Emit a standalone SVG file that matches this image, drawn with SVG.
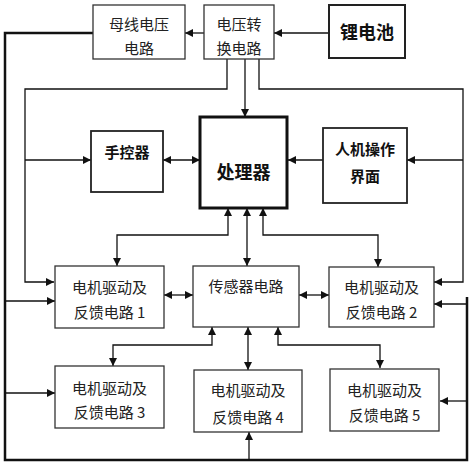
<svg xmlns="http://www.w3.org/2000/svg" width="474" height="467" viewBox="0 0 474 467">
<defs>
<marker id="ah" viewBox="0 0 10 10" refX="10" refY="5" markerWidth="9" markerHeight="8" markerUnits="userSpaceOnUse" orient="auto-start-reverse"><path d="M0,0 L10,5 L0,10 Z" fill="#111"/></marker>
</defs>
<style>
.box{fill:#fff;stroke:#333;stroke-width:1.3}
.t{font-family:"Noto Sans CJK SC","Noto Sans",sans-serif;font-size:15px;fill:#222;text-anchor:middle}
.b{font-weight:bold;fill:#111}
.c{fill:none;stroke:#111;stroke-width:1.3}
.k{fill:none;stroke:#111;stroke-width:2.5}
</style>
<rect width="474" height="467" fill="#fff"/>
<g id="connectors">
<path class="c" d="M329,33 H274" marker-end="url(#ah)"/>
<path class="c" d="M204,33 H185" marker-end="url(#ah)"/>
<path class="k" d="M93,33 H5 V460 H467 V297"/>
<path class="c" d="M467,304 H434" marker-end="url(#ah)"/>
<path class="c" d="M467,401 H440" marker-end="url(#ah)"/>
<path class="c" d="M249,460 V432" marker-end="url(#ah)"/>
<path class="c" d="M5,301 H55" marker-end="url(#ah)"/>
<path class="c" d="M5,393 H55" marker-end="url(#ah)"/>
<path class="c" d="M227,59 V89 H25 V282 H54" marker-end="url(#ah)"/>
<path class="c" d="M25,160 H91" marker-end="url(#ah)"/>
<path class="c" d="M245,59 V117" marker-end="url(#ah)"/>
<path class="c" d="M259,59 V89 H463 V282 H434" marker-end="url(#ah)"/>
<path class="c" d="M463,160 H407" marker-end="url(#ah)"/>
<path class="c" d="M163,160 H200" marker-start="url(#ah)" marker-end="url(#ah)"/>
<path class="c" d="M323,160 H288" marker-end="url(#ah)"/>
<path class="c" d="M228,208 V235 H117 V266" marker-start="url(#ah)" marker-end="url(#ah)"/>
<path class="c" d="M247,208 V266" marker-start="url(#ah)" marker-end="url(#ah)"/>
<path class="c" d="M263,208 V235 H378 V267" marker-start="url(#ah)" marker-end="url(#ah)"/>
<path class="c" d="M164,295 H193" marker-start="url(#ah)" marker-end="url(#ah)"/>
<path class="c" d="M299,295 H329" marker-start="url(#ah)" marker-end="url(#ah)"/>
<path class="c" d="M212,327 V345 H113 V366" marker-start="url(#ah)" marker-end="url(#ah)"/>
<path class="c" d="M248,327 V370" marker-start="url(#ah)" marker-end="url(#ah)"/>
<path class="c" d="M278,327 V345 H380 V368" marker-start="url(#ah)" marker-end="url(#ah)"/>
</g>
<g id="busVoltage"><rect class="box" x="93" y="5" width="92" height="54"/><text class="t" x="139" y="30">母线电压</text><text class="t" x="139" y="54">电路</text></g>
<g id="converter"><rect class="box" x="204" y="5" width="70" height="54"/><text class="t" x="239" y="30">电压转</text><text class="t" x="239" y="54">换电路</text></g>
<g id="battery"><rect class="box" x="329" y="5" width="76" height="53" style="stroke-width:2;stroke:#222"/><text class="t b" x="367" y="39" style="font-size:18px">锂电池</text></g>
<g id="handController"><rect class="box" x="91" y="131" width="72" height="61" style="stroke-width:1.8;stroke:#222"/><text class="t b" x="127" y="158">手控器</text></g>
<g id="processor"><rect class="box" x="200" y="117" width="87" height="91" style="stroke-width:3;stroke:#111"/><text class="t b" x="243.5" y="179" style="font-size:18px">处理器</text></g>
<g id="hmi"><rect class="box" x="323" y="128" width="84" height="75" style="stroke-width:1.8;stroke:#222"/><text class="t b" x="365" y="155">人机操作</text><text class="t b" x="365" y="182">界面</text></g>
<g id="motor1"><rect class="box" x="55" y="266" width="109" height="62"/><text class="t" x="109.5" y="293">电机驱动及</text><text class="t" x="109.5" y="318">反馈电路 1</text></g>
<g id="sensor"><rect class="box" x="193" y="266" width="106" height="61"/><text class="t" x="246" y="292">传感器电路</text></g>
<g id="motor2"><rect class="box" x="329" y="267" width="105" height="60"/><text class="t" x="381.5" y="293">电机驱动及</text><text class="t" x="381.5" y="318">反馈电路 2</text></g>
<g id="motor3"><rect class="box" x="55" y="366" width="109" height="62"/><text class="t" x="109.5" y="394">电机驱动及</text><text class="t" x="109.5" y="418">反馈电路 3</text></g>
<g id="motor4"><rect class="box" x="194" y="370" width="108" height="62"/><text class="t" x="248" y="396">电机驱动及</text><text class="t" x="248" y="423">反馈电路 4</text></g>
<g id="motor5"><rect class="box" x="330" y="369" width="109" height="62"/><text class="t" x="384.5" y="396">电机驱动及</text><text class="t" x="384.5" y="421">反馈电路 5</text></g>
</svg>
